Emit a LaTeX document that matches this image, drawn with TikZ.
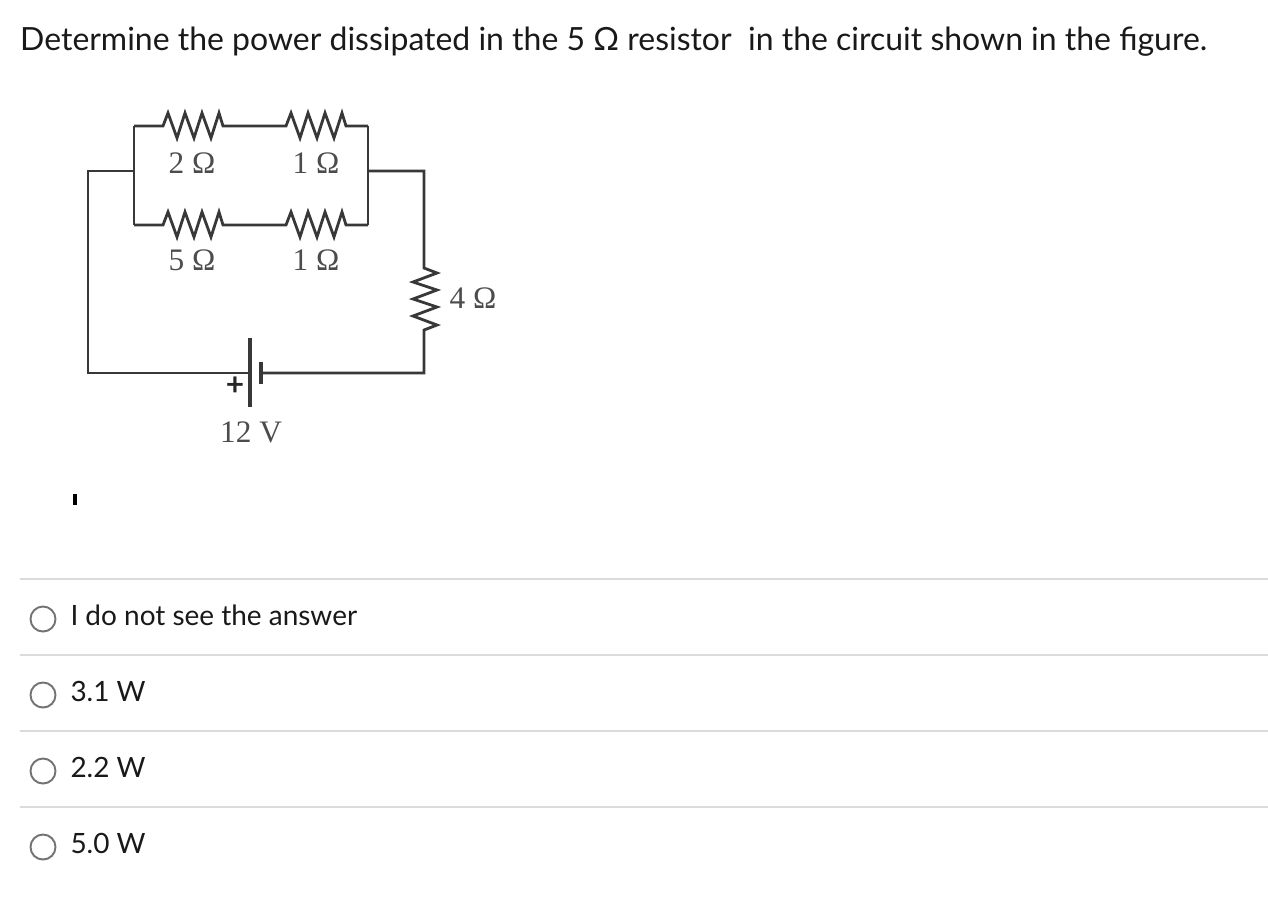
\documentclass[tikz,border=0pt]{standalone}
\usepackage{fontspec}
\setmainfont{Lato}
\newfontfamily\labelfont{Liberation Serif}
\newcommand{\zigh}{-- ++(5,-13) -- ++(9,25) -- ++(8,-25) -- ++(9,25) -- ++(8,-25) -- ++(9,25) -- ++(8,-25)}
\newcommand{\zigv}{-- ++(13,5) -- ++(-24,9) -- ++(24,8) -- ++(-24,9) -- ++(24,8) -- ++(-24,9) -- ++(24,9)}
\tikzset{
    wire/.style={draw=black!78, line width=0.8pt, line join=miter},
    plate/.style={draw=black!78, line width=0.95pt},
    value/.style={inner sep=0pt, text=black!70, font=\labelfont\fontsize{8.9}{10}\selectfont},
    rule/.style={draw=black!14, line width=0.55pt},
    radio/.style={draw=black!55, line width=0.55pt, circle, minimum size=0.25cm, inner sep=0pt},
    answer/.style={anchor=base west, inner sep=0pt, text=black!90, font=\fontsize{7.95}{10}\selectfont}
}
\begin{document}
\begin{tikzpicture}[x=0.01cm, y=-0.01cm]
    \useasboundingbox (0,0) rectangle (1268,900);

    \node[anchor=base west, inner sep=0pt, text=black!90, font=\fontsize{9.09}{11}\selectfont] (question) at (19.5,50) {Determine the power dissipated in the 5 Ω resistor\ \ in the circuit shown in the figure.};

    % circuit corners
    \coordinate (topleft) at (134,126);
    \coordinate (topright) at (368,126);
    \coordinate (botleft) at (134,225);
    \coordinate (botright) at (368,225);
    \coordinate (midleft) at (134,171);
    \coordinate (midright) at (368,171);
    \coordinate (outleft) at (88,171);
    \coordinate (outright) at (424,171);
    \coordinate (cornerleft) at (88,373);
    \coordinate (cornerright) at (424,373);

    % resistor ends
    \coordinate (a1) at (163,126);
    \coordinate (a2) at (223,126);
    \coordinate (b1) at (286,126);
    \coordinate (b2) at (346,126);
    \coordinate (c1) at (163,225);
    \coordinate (c2) at (223,225);
    \coordinate (d1) at (286,225);
    \coordinate (d2) at (346,225);
    \coordinate (e1) at (424,268);
    \coordinate (e2) at (424,330);

    % battery plates
    \coordinate (plusplate) at (250,373);
    \coordinate (minusplate) at (261,373);
    \coordinate (plustop) at (250,338);
    \coordinate (plusbot) at (250,407);
    \coordinate (minustop) at (261,362);
    \coordinate (minusbot) at (261,384);

    \draw[wire] (topleft) -- (a1) \zigh -- (a2) -- (b1) \zigh -- (b2) -- (topright);
    \draw[wire] (botleft) -- (c1) \zigh -- (c2) -- (d1) \zigh -- (d2) -- (botright);
    \draw[wire] (topleft) -- (botleft);
    \draw[wire] (topright) -- (botright);
    \draw[wire] (midleft) -- (outleft) -- (cornerleft) -- (plusplate);
    \draw[wire] (midright) -- (outright) -- (e1) \zigv -- (e2) -- (cornerright) -- (minusplate);
    \draw[plate] (plustop) -- (plusbot);
    \draw[plate] (minustop) -- (minusbot);

    \node[value] (two) at (192,163) {2 Ω};
    \node[value] (oneup) at (316,163) {1 Ω};
    \node[value] (five) at (192,260) {5 Ω};
    \node[value] (onedown) at (316,260) {1 Ω};
    \node[value] (four) at (473,298) {4 Ω};
    \node[value] (volt) at (251,432) {12 V};
    \node[inner sep=0pt, text=black!85, font=\bfseries\fontsize{9}{10}\selectfont] (plus) at (235,386) {+};

    % stray mark under the figure
    \coordinate (marktop) at (75,494);
    \coordinate (markbot) at (75,505);
    \draw[black, line width=0.9pt] (marktop) -- (markbot);

    % separators
    \foreach \name/\ypos in {ruleone/579, ruletwo/655, rulethree/731, rulefour/807} {
        \coordinate (\name a) at (20,\ypos);
        \coordinate (\name b) at (1268,\ypos);
        \draw[rule] (\name a) -- (\name b);
    }

    % answers
    \foreach \name/\ypos/\txt in {see/625/I do not see the answer, opta/701/3.1 W, optb/777/2.2 W, optc/853/5.0 W} {
        \node[radio] (\name radio) at (43,\ypos-6) {};
        \node[answer] (\name) at (69.8,\ypos) {\txt};
    }
\end{tikzpicture}
\end{document}
